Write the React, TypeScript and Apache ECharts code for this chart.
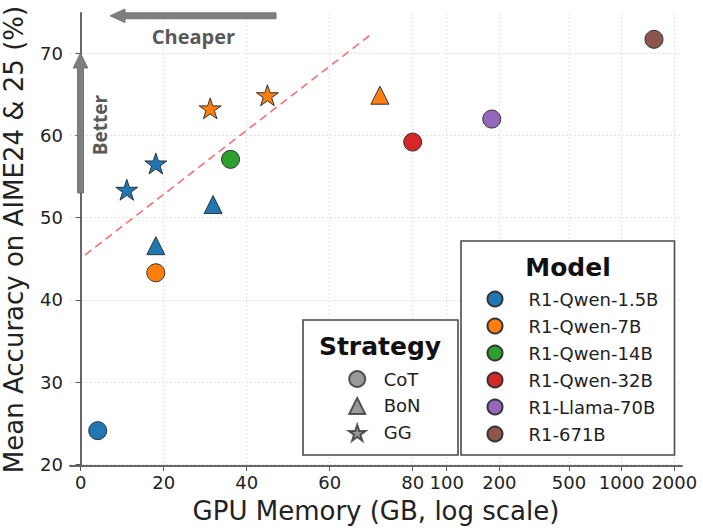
import React, { useEffect, useRef } from 'react';
import * as echarts from 'echarts';

// ---- data ----
const xTickValues = [0, 20, 40, 60, 80, 100, 200, 500, 1000, 2000];
const xTickLabels = ['0', '20', '40', '60', '80', '100', '200', '500', '1000', '2000'];
const yTickValues = [20, 30, 40, 50, 60, 70];

const models = ['R1-Qwen-1.5B', 'R1-Qwen-7B', 'R1-Qwen-14B', 'R1-Qwen-32B', 'R1-Llama-70B', 'R1-671B'];
const modelColors = ['#1f77b4', '#ff7f0e', '#2ca02c', '#d62728', '#9467bd', '#8c564b'];
const strategies = ['CoT', 'BoN', 'GG'];

const pointModel = [0, 1, 2, 3, 4, 5, 1, 0, 0, 0, 0, 1, 1];
const pointStrategy = ['CoT', 'CoT', 'CoT', 'CoT', 'CoT', 'CoT', 'BoN', 'BoN', 'BoN', 'GG', 'GG', 'GG', 'GG'];
const pointMemory = [4.1, 18.1, 36.1, 80, 181, 1530, 72.1, 31.9, 18.1, 11.1, 18.1, 31.2, 45.0];
const pointAccuracy = [24.1, 43.3, 57.1, 59.2, 62.0, 71.7, 64.9, 51.6, 46.6, 53.4, 56.6, 63.3, 64.9];

const trendMemory = [1.04, 70.4];
const trendAccuracy = [45.46, 72.47];

// ---- custom piecewise memory scale (linear up to 80 GB, log beyond 100 GB) ----
function toAxis(gb: number): number {
  if (gb <= 80) return gb / 20;
  if (gb <= 100) return 4 + ((gb - 80) / 20) * 0.41;
  return 4.41 + Math.log10(gb / 100) * 2.108;
}

const STAR = 'path://M0,-100L22.45,-30.9L95.11,-30.9L36.33,11.8L58.78,80.9L0,38.2L-58.78,80.9L-36.33,11.8L-95.11,-30.9L-22.45,-30.9Z';
const TRI = 'path://M0,-100L100,100L-100,100Z';

const symbolOf: Record<string, string> = { CoT: 'circle', BoN: 'triangle', GG: STAR };
const sizeOf: Record<string, number> = { CoT: 18, BoN: 18, GG: 22 };
const legendIconOf: Record<string, string> = { CoT: 'circle', BoN: TRI, GG: STAR };

const FONT = 'DejaVu Sans';

export default function App() {
  const ref = useRef<HTMLDivElement>(null);
  useEffect(() => {
    const chart = echarts.init(ref.current!, null, { renderer: 'svg' });
    const xCustom = xTickValues.map(toAxis);

    const modelSeries = models.map((m, mi) => ({
      name: m,
      type: 'scatter',
      z: 3,
      symbolKeepAspect: true,
      emphasis: { disabled: true },
      itemStyle: { color: modelColors[mi], borderColor: '#333', borderWidth: 1, opacity: 1 },
      data: pointModel
        .map((pm, i) => ({ pm, i }))
        .filter((d) => d.pm === mi)
        .map(({ i }) => ({
          value: [toAxis(pointMemory[i]), pointAccuracy[i]],
          symbol: symbolOf[pointStrategy[i]],
          symbolSize: sizeOf[pointStrategy[i]],
        })),
    }));

    const strategySeries = strategies.map((s) => ({
      name: s,
      type: 'scatter',
      data: [],
      symbol: legendIconOf[s],
      itemStyle: { color: '#808080', borderColor: '#333', borderWidth: 1 },
    }));

    const trendSeries = {
      name: 'trend',
      type: 'line',
      z: 2,
      symbol: 'none',
      silent: true,
      lineStyle: { color: '#f07272', width: 1.6, type: [8, 5] },
      data: trendMemory.map((m, i) => [toAxis(m), trendAccuracy[i]]),
    };

    const option: any = {
      animation: false,
      backgroundColor: '#fff',
      grid: { left: 70, top: 13, width: 612, height: 453, outerBoundsMode: 'none', containLabel: false },
      xAxis: {
        type: 'value',
        min: -0.129,
        max: 7.245,
        name: 'GPU Memory (GB, log scale)',
        nameLocation: 'middle',
        nameGap: 32,
        nameTextStyle: { fontFamily: FONT, fontSize: 26, color: '#222', verticalAlign: 'top' },
        axisLine: { show: true, lineStyle: { color: '#666', width: 2 } },
        axisTick: { show: true, length: 5, lineStyle: { color: '#555', width: 1 }, customValues: xCustom },
        axisLabel: {
          customValues: xCustom,
          margin: 7,
          fontFamily: FONT,
          fontSize: 18,
          color: '#222',
          formatter: (v: number) => {
            const k = xCustom.findIndex((c) => Math.abs(c - v) < 1e-6);
            return k >= 0 ? xTickLabels[k] : '';
          },
        },
        splitLine: { show: true, lineStyle: { color: '#e2e2e2', type: [2, 2], width: 1 } },
      },
      yAxis: {
        type: 'value',
        min: 19.8,
        max: 74.9,
        name: 'Mean Accuracy on AIME24 & 25 (%)',
        nameLocation: 'middle',
        nameGap: 43,
        nameTextStyle: { fontFamily: FONT, fontSize: 26, color: '#222' },
        axisLine: { show: true, lineStyle: { color: '#666', width: 2 } },
        axisTick: { show: true, length: 5, lineStyle: { color: '#555', width: 1 }, customValues: yTickValues },
        axisLabel: { customValues: yTickValues, margin: 7, fontFamily: FONT, fontSize: 18, color: '#222' },
        splitLine: { show: true, lineStyle: { color: '#e2e2e2', type: [2, 2], width: 1 } },
      },
      legend: [
        {
          data: models.map((m) => ({ name: m, icon: 'circle' })),
          orient: 'vertical',
          left: 486.5,
          top: 290,
          padding: 0,
          itemWidth: 57,
          itemHeight: 15,
          itemGap: 9,
          selectedMode: false,
          symbolKeepAspect: true,
          z: 6,
          textStyle: { fontFamily: FONT, fontSize: 18, color: '#222', lineHeight: 15 },
        },
        {
          data: strategies.map((s) => ({ name: s, icon: legendIconOf[s] })),
          orient: 'vertical',
          left: 347.8,
          top: 370,
          padding: 0,
          itemWidth: 43,
          itemHeight: 16,
          itemGap: 8.9,
          selectedMode: false,
          symbolKeepAspect: true,
          z: 6,
          textStyle: { fontFamily: FONT, fontSize: 18, color: '#222', lineHeight: 16 },
        },
      ],
      graphic: {
        elements: [
          {
            type: 'rect', z: 5,
            shape: { x: 461, y: 241, width: 213.5, height: 214 },
            style: { fill: '#fff', stroke: '#4a4a4a', lineWidth: 1.6 },
          },
          {
            type: 'rect', z: 5,
            shape: { x: 303, y: 320, width: 155, height: 135 },
            style: { fill: '#fff', stroke: '#4a4a4a', lineWidth: 1.6 },
          },
          {
            type: 'text', z: 7, x: 568, y: 267,
            style: { text: 'Model', font: `bold 25px "${FONT}"`, fill: '#111', align: 'center', verticalAlign: 'middle' },
          },
          {
            type: 'text', z: 7, x: 380, y: 346.5,
            style: { text: 'Strategy', font: `bold 25px "${FONT}"`, fill: '#111', align: 'center', verticalAlign: 'middle' },
          },
          {
            type: 'polygon', z: 5,
            shape: { points: [[276, 12.8], [125, 12.8], [125, 9], [110, 15.8], [125, 22.6], [125, 18.8], [276, 18.8]] },
            style: { fill: '#7f7f7f', stroke: '#666', lineWidth: 0.8 },
          },
          {
            type: 'polygon', z: 5,
            shape: { points: [[77.5, 193], [77.5, 68], [73.2, 68], [80.5, 53], [87.8, 68], [83.5, 68], [83.5, 193]] },
            style: { fill: '#7f7f7f', stroke: '#666', lineWidth: 0.8 },
          },
          {
            type: 'text', z: 7, x: 193.5, y: 36.7,
            style: { text: 'Cheaper', font: 'bold 20px "Open Sans"', fill: '#595959', align: 'center', verticalAlign: 'middle' },
          },
          {
            type: 'text', z: 7, x: 100, y: 125, rotation: Math.PI / 2,
            style: { text: 'Better', font: 'bold 19px "Open Sans"', fill: '#595959', align: 'center', verticalAlign: 'middle' },
          },
        ],
      },
      series: [trendSeries, ...modelSeries, ...strategySeries],
    };
    chart.setOption(option);
    return () => chart.dispose();
  }, []);
  return (
    <div
      ref={ref}
      style={{ position: 'fixed', left: 0, top: 0, width: 703, height: 530, background: '#fff' }}
    />
  );
}
